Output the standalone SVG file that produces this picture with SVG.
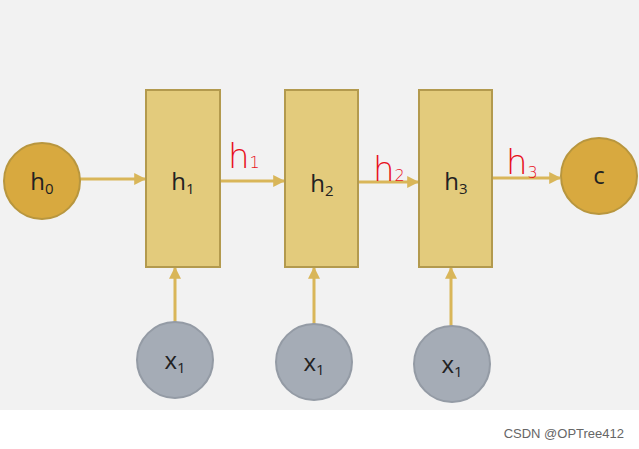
<svg xmlns="http://www.w3.org/2000/svg" width="639" height="449" viewBox="0 0 639 449">
<style>
.box{fill:#e3cb7c;stroke:#b39a4e;stroke-width:2}
.gold{fill:#d8a93f;stroke:#b8963e;stroke-width:2}
.gray{fill:#a5acb6;stroke:#949ba5;stroke-width:2}
.lbl{font-family:"Open Sans","DejaVu Sans",sans-serif;font-size:24px;fill:#222;text-anchor:middle}
.sub{font-size:15px}
.red{font-family:"DejaVu Sans",sans-serif;font-size:34px;fill:#e8101a;font-weight:200}
.redsub{font-size:16px}
.ln{stroke:#d9b659;stroke-width:3;fill:none;marker-end:url(#a)}
</style>
<defs><marker id="a" viewBox="0 0 10 10" refX="9" refY="5" markerWidth="4" markerHeight="4" orient="auto"><path d="M0,0L10,5L0,10z" fill="#d9b659"/></marker></defs>
<rect width="639" height="410" fill="#f2f2f2"/>
<rect y="410" width="639" height="39" fill="#fff"/>
<g id="connectors">
<line class="ln" x1="80" y1="179" x2="145" y2="179"/>
<line class="ln" x1="221" y1="181" x2="284" y2="181"/>
<line class="ln" x1="359" y1="182" x2="418" y2="182"/>
<line class="ln" x1="493" y1="178" x2="560" y2="178"/>
<line class="ln" x1="175" y1="322" x2="175" y2="268"/>
<line class="ln" x1="314" y1="324" x2="314" y2="268"/>
<line class="ln" x1="451" y1="326" x2="451" y2="268"/>
</g>
<g id="h0"><circle class="gold" cx="42" cy="181" r="38"/><text class="lbl" x="42" y="190">h<tspan class="sub" dy="4">0</tspan></text></g>
<g id="h1"><rect class="box" x="146" y="90" width="74" height="177"/><text class="lbl" x="183" y="190">h<tspan class="sub" dy="4">1</tspan></text></g>
<g id="h2"><rect class="box" x="285" y="90" width="73" height="177"/><text class="lbl" x="322" y="192">h<tspan class="sub" dy="4">2</tspan></text></g>
<g id="h3"><rect class="box" x="419" y="90" width="73" height="177"/><text class="lbl" x="456" y="190">h<tspan class="sub" dy="4">3</tspan></text></g>
<g id="c"><circle class="gold" cx="599" cy="176" r="38"/><text class="lbl" x="599" y="184">c</text></g>
<g id="x1a"><circle class="gray" cx="175" cy="360" r="38"/><text class="lbl" x="175" y="369">x<tspan class="sub" dy="4">1</tspan></text></g>
<g id="x1b"><circle class="gray" cx="314" cy="362" r="38"/><text class="lbl" x="314" y="371">x<tspan class="sub" dy="4">1</tspan></text></g>
<g id="x1c"><circle class="gray" cx="452" cy="364" r="38"/><text class="lbl" x="452" y="373">x<tspan class="sub" dy="4">1</tspan></text></g>
<g id="redlabels">
<text class="red" x="228" y="168">h<tspan class="redsub">1</tspan></text>
<text class="red" x="373" y="181">h<tspan class="redsub">2</tspan></text>
<text class="red" x="506" y="174">h<tspan class="redsub" dy="4">3</tspan></text>
</g>
<text x="624" y="438" font-family="'Liberation Sans',sans-serif" font-size="13" fill="#666" text-anchor="end">CSDN @OPTree412</text>
</svg>
